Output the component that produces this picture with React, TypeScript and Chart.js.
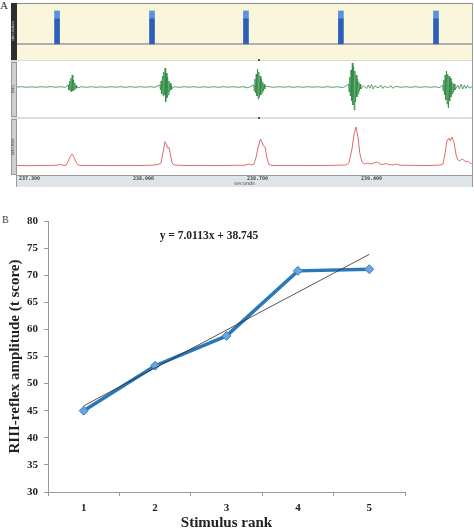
import React, { useEffect, useRef } from 'react';
import { Chart, registerables } from 'chart.js';

Chart.register(...registerables);

// ---------- Panel A data ----------
const timeMin = 237.223;
const timeMax = 240.017;
const timeTicks = [237.3, 238.0, 238.7, 239.4];
const timeTickLabels = ['237.300', '238.000', '238.700', '239.400'];

const stimTimes = [237.469, 238.052, 238.629, 239.212, 239.796];
const stimSplit = 0.76;

const emgSamples: [number, number][] = [
  [237.223, 0], [237.25, 0.3], [237.28, -0.3], [237.31, 0.2], [237.34, -0.3], [237.37, 0.3], [237.40, -0.2],
  [237.43, 0.4], [237.46, -0.3], [237.49, 0.3], [237.52, -0.3],
  [237.538, 2], [237.542, -3], [237.546, 6], [237.550, -4], [237.554, 9], [237.558, -5], [237.562, 12],
  [237.566, -4], [237.570, 7], [237.574, -3], [237.578, 4], [237.582, -2], [237.586, 1.5], [237.590, -1],
  [237.62, 0.3], [237.65, -0.3], [237.68, 0.3], [237.71, -0.3], [237.74, 0.2], [237.77, -0.3], [237.80, 0.3],
  [237.83, -0.2], [237.86, 0.3], [237.89, -0.3], [237.92, 0.3], [237.95, -0.3], [237.98, 0.3], [238.01, -0.2],
  [238.04, 0.3], [238.07, -0.3],
  [238.100, 2], [238.104, -3], [238.108, 6], [238.112, -7], [238.116, 11], [238.120, -9], [238.124, 15],
  [238.128, -8], [238.132, 19], [238.136, -15], [238.140, 14], [238.144, -11], [238.148, 10], [238.152, -8],
  [238.156, 6], [238.160, -5], [238.164, 4], [238.168, -3], [238.172, 2], [238.176, -1.5],
  [238.19, 0.3], [238.22, -0.3], [238.25, 0.3], [238.28, -0.2], [238.31, 0.3], [238.34, -0.3], [238.37, 0.2],
  [238.40, -0.3], [238.43, 0.3], [238.46, -0.3], [238.49, 0.3], [238.52, -0.2], [238.55, 0.3], [238.58, -0.3],
  [238.61, 0.3], [238.64, -0.8], [238.66, 0.8],
  [238.676, 2], [238.680, -4], [238.684, 8], [238.688, -6], [238.692, 13], [238.696, -9], [238.700, 18],
  [238.704, -12], [238.708, 15], [238.712, -10], [238.716, 11], [238.720, -8], [238.724, 8], [238.728, -6],
  [238.732, 5], [238.736, -4], [238.740, 3], [238.744, -2], [238.748, 1],
  [238.77, 0.3], [238.80, -0.3], [238.83, 0.3], [238.86, -0.2], [238.89, 0.3], [238.92, -0.3], [238.95, 0.3],
  [238.98, -0.3], [239.01, 0.3], [239.04, -0.2], [239.07, 0.3], [239.10, -0.3], [239.13, 0.3], [239.16, -0.3],
  [239.19, 0.3], [239.22, -0.6], [239.24, 0.6],
  [239.258, 3], [239.262, -5], [239.266, 10], [239.270, -9], [239.274, 17], [239.278, -14], [239.282, 24],
  [239.286, -18], [239.290, 20], [239.294, -23], [239.298, 16], [239.302, -15], [239.306, 12], [239.310, -10],
  [239.314, 8], [239.318, -7], [239.322, 5], [239.326, -4], [239.330, 3], [239.334, -2],
  [239.35, 1.2], [239.37, -1.5], [239.38, 2], [239.39, -1.2], [239.40, 2.5], [239.41, -2], [239.42, 1.2],
  [239.44, -0.8], [239.46, 1.5], [239.47, -1.5], [239.48, 0.8], [239.50, -0.8], [239.52, 1.2], [239.53, -1.2],
  [239.55, 0.6], [239.58, -0.3], [239.61, 0.3], [239.64, -0.3], [239.67, 0.3], [239.70, -0.3], [239.73, 0.3],
  [239.76, -0.3], [239.79, 0.3], [239.82, -0.6],
  [239.836, 2], [239.840, -4], [239.844, 7], [239.848, -8], [239.852, 12], [239.856, -13], [239.860, 16],
  [239.864, -17], [239.868, 13], [239.872, -21], [239.876, 11], [239.880, -14], [239.884, 9], [239.888, -10],
  [239.892, 6], [239.896, -7], [239.900, 4], [239.904, -5], [239.908, 3], [239.912, -3],
  [239.93, 2], [239.94, -2], [239.95, 3], [239.96, -2], [239.97, 2], [239.98, -1.5], [239.99, 1.5],
  [240.00, -1], [240.017, 0.3],
];

const rmsSamples: [number, number][] = [
  [237.223, 0.5], [237.303, 0.3], [237.364, 0.6], [237.426, 0.5], [237.475, 1], [237.493, 1.5], [237.511, 0.5],
  [237.524, 0.8], [237.536, 4], [237.548, 9], [237.561, 12], [237.573, 9], [237.585, 4], [237.598, 1],
  [237.622, 0.5], [237.702, 0.6], [237.794, 0.4], [237.886, 0.6], [237.978, 0.5], [238.052, 0.8],
  [238.089, 1.5], [238.107, 3], [238.12, 14], [238.132, 24.5], [238.141, 22], [238.147, 18], [238.157, 18.5],
  [238.166, 11], [238.175, 3], [238.187, 1], [238.255, 0.5], [238.347, 0.6], [238.439, 0.4], [238.531, 0.6],
  [238.623, 0.8], [238.647, 2], [238.659, 1], [238.678, 2], [238.69, 8], [238.703, 18], [238.718, 27],
  [238.727, 24], [238.736, 20], [238.746, 19], [238.758, 8], [238.77, 1.5], [238.789, 0.5], [238.899, 0.6],
  [239.022, 0.5], [239.145, 0.6], [239.243, 1], [239.261, 3], [239.279, 16], [239.291, 30], [239.304, 39],
  [239.316, 30], [239.329, 12], [239.341, 4], [239.359, 2], [239.378, 3], [239.396, 2], [239.414, 3],
  [239.433, 4], [239.451, 2], [239.469, 1.5], [239.488, 2.5], [239.506, 1.5], [239.531, 1], [239.549, 2],
  [239.573, 0.8], [239.665, 0.6], [239.757, 0.5], [239.818, 1], [239.839, 2], [239.851, 12], [239.863, 25],
  [239.875, 28], [239.884, 25], [239.894, 29], [239.906, 24], [239.918, 12], [239.93, 6], [239.942, 5],
  [239.954, 7], [239.967, 6], [239.979, 4], [239.991, 5], [240.003, 3], [240.015, 2.5],
];

// ---------- Panel B data ----------
const ranks = ['1', '2', '3', '4', '5'];
const amplitudes = [45.0, 53.3, 58.8, 70.8, 71.1];
const trendValues: (number | null)[] = [45.9, null, null, null, 73.85];
const equationText = 'y = 7.0113x + 38.745';
const yMin = 30;
const yMax = 80;
const yStep = 5;

const serif = '"Liberation Serif", "DejaVu Serif", serif';
const mono = '"DejaVu Sans Mono", "Liberation Mono", monospace';

function useChart(factory: () => any) {
  const ref = useRef<HTMLCanvasElement | null>(null);
  useEffect(() => {
    if (!ref.current) return;
    const chart = new Chart(ref.current, factory());
    return () => chart.destroy();
  }, []);
  return ref;
}

const hiddenX = { type: 'linear', min: timeMin, max: timeMax, display: false, offset: false };

function StimTrack() {
  const ref = useChart(() => ({
    type: 'bar',
    data: {
      datasets: [
        {
          type: 'line',
          data: [{ x: timeMin, y: 0 }, { x: timeMax, y: 0 }],
          borderColor: '#5d6b88',
          borderWidth: 1,
          pointRadius: 0,
        },
        {
          data: stimTimes.map((t) => ({ x: t, y: [0, stimSplit] })),
          backgroundColor: '#2d5fb8',
          barThickness: 5,
          grouped: false,
        },
        {
          data: stimTimes.map((t) => ({ x: t, y: [stimSplit, 1] })),
          backgroundColor: '#5f8fd6',
          barThickness: 5,
          grouped: false,
        },
      ],
    },
    options: {
      responsive: false,
      animation: false,
      layout: { padding: 0 },
      plugins: { legend: { display: false }, tooltip: { enabled: false } },
      scales: {
        x: hiddenX,
        y: { min: -0.485, max: 1.24, display: false },
      },
    },
  }));
  return <canvas ref={ref} width={455} height={57} style={{ display: 'block' }} />;
}

function EmgTrack() {
  const ref = useChart(() => ({
    type: 'line',
    data: {
      datasets: [
        {
          data: emgSamples.map(([x, y]) => ({ x, y })),
          borderColor: '#2f8a42',
          borderWidth: 0.8,
          pointRadius: 0,
          tension: 0,
        },
      ],
    },
    options: {
      responsive: false,
      animation: false,
      layout: { padding: 0 },
      plugins: { legend: { display: false }, tooltip: { enabled: false } },
      scales: {
        x: hiddenX,
        y: { min: -30, max: 26, display: false },
      },
    },
  }));
  return <canvas ref={ref} width={455} height={56} style={{ display: 'block' }} />;
}

function RmsTrack() {
  const ref = useChart(() => ({
    type: 'line',
    data: {
      datasets: [
        {
          data: rmsSamples.map(([x, y]) => ({ x, y })),
          borderColor: '#e06a6a',
          borderWidth: 1,
          pointRadius: 0,
          tension: 0,
        },
      ],
    },
    options: {
      responsive: false,
      animation: false,
      layout: { padding: 0 },
      plugins: { legend: { display: false }, tooltip: { enabled: false } },
      scales: {
        x: {
          type: 'linear',
          min: timeMin,
          max: timeMax,
          offset: false,
          grid: { display: false, drawTicks: false },
          border: { display: false },
          afterBuildTicks: (scale: any) => {
            scale.ticks = timeTicks.map((value) => ({ value }));
          },
          afterFit: (scale: any) => {
            scale.height = 12;
          },
          ticks: {
            autoSkip: false,
            maxRotation: 0,
            padding: 1,
            color: '#444',
            font: { family: mono, size: 5, weight: 'bold' },
            callback: (_v: any, i: number) => timeTickLabels[i],
          },
          title: {
            display: true,
            text: 'seconds',
            color: '#444',
            font: { family: mono, size: 5 },
            padding: { top: 0, bottom: 0 },
          },
        },
        y: { min: -9, max: 47, display: false },
      },
    },
  }));
  return <canvas ref={ref} width={455} height={68} style={{ display: 'block' }} />;
}

function PanelB() {
  const ref = useChart(() => ({
    type: 'line',
    data: {
      labels: ranks,
      datasets: [
        {
          data: trendValues,
          borderColor: '#2a2a2a',
          borderWidth: 0.8,
          pointRadius: 0,
          spanGaps: true,
          tension: 0,
        },
        {
          data: amplitudes,
          borderColor: '#2a78b8',
          borderWidth: 3.5,
          tension: 0,
          pointStyle: 'rectRot',
          pointRadius: 4.5,
          pointBackgroundColor: '#6aa6dc',
          pointBorderColor: '#3a84c6',
          pointBorderWidth: 1,
        },
      ],
    },
    options: {
      responsive: false,
      animation: false,
      layout: { padding: { top: 21, right: 69, left: 0, bottom: 0 } },
      plugins: { legend: { display: false }, tooltip: { enabled: false } },
      scales: {
        x: {
          type: 'category',
          offset: true,
          grid: { display: true, drawOnChartArea: false, drawTicks: true, tickLength: 4, offset: true, color: '#999' },
          border: { display: true, color: '#999', width: 1 },
          afterFit: (scale: any) => {
            scale.height = 38;
          },
          ticks: { color: '#222', padding: 6, font: { family: serif, size: 11, weight: 'bold' } },
          title: {
            display: true,
            text: 'Stimulus rank',
            color: '#222',
            font: { family: serif, size: 15, weight: 'bold' },
            padding: { top: 0, bottom: -2 },
          },
        },
        y: {
          min: yMin,
          max: yMax,
          grid: { display: true, drawOnChartArea: false, drawTicks: true, tickLength: 4, color: '#999' },
          border: { display: true, color: '#999', width: 1 },
          afterFit: (scale: any) => {
            scale.width = 48;
          },
          ticks: { stepSize: yStep, color: '#222', padding: 6, font: { family: serif, size: 11, weight: 'bold' } },
          title: {
            display: true,
            text: 'RIII-reflex amplitude (t score)',
            color: '#222',
            font: { family: serif, size: 15, weight: 'bold' },
            padding: { top: 6, bottom: 0 },
          },
        },
      },
    },
  }));
  return <canvas ref={ref} width={474} height={330} style={{ display: 'block' }} />;
}

const sideLabel: React.CSSProperties = {
  position: 'absolute',
  left: 0,
  top: 0,
  width: '100%',
  height: '100%',
  writingMode: 'vertical-rl',
  transform: 'rotate(180deg)',
  fontSize: 3.5,
  fontFamily: '"DejaVu Sans", sans-serif',
  display: 'flex',
  alignItems: 'center',
  justifyContent: 'center',
  lineHeight: 1,
};

export default function App() {
  return (
    <div style={{ position: 'absolute', left: 0, top: 0, width: 474, height: 530, background: '#fff', overflow: 'hidden' }}>
      {/* Panel A */}
      <div style={{ position: 'absolute', left: 0, top: 0, fontFamily: serif, fontSize: 11, color: '#333', lineHeight: 1 }}>A</div>

      {/* stimulation track */}
      <div style={{ position: 'absolute', left: 11, top: 3, width: 6, height: 57, background: '#2f2f2f' }}>
        <div style={{ ...sideLabel, color: '#ddd' }}>stimulation</div>
      </div>
      <div style={{ position: 'absolute', left: 17, top: 3, width: 455, height: 57, background: '#faf6db', borderTop: '1px solid #8a8a8a', boxSizing: 'border-box' }}>
        <div style={{ position: 'absolute', left: 0, top: -1 }}>
          <StimTrack />
        </div>
      </div>
      <div style={{ position: 'absolute', left: 11, top: 60, width: 462, height: 1.5, background: '#d8d8d8' }} />

      {/* EMG track */}
      <div style={{ position: 'absolute', left: 11, top: 62, width: 6, height: 55, background: '#cfcfcf', border: '0.5px solid #999', boxSizing: 'border-box' }}>
        <div style={{ ...sideLabel, color: '#555' }}>EMG</div>
      </div>
      <div style={{ position: 'absolute', left: 17, top: 61, width: 455, height: 56, background: '#fff' }}>
        <EmgTrack />
      </div>
      <div style={{ position: 'absolute', left: 11, top: 117, width: 462, height: 2, background: '#dcdcdc' }} />

      {/* RMS track */}
      <div style={{ position: 'absolute', left: 11, top: 119, width: 6, height: 56, background: '#cfcfcf', border: '0.5px solid #999', boxSizing: 'border-box' }}>
        <div style={{ ...sideLabel, color: '#555' }}>EMG RMS</div>
      </div>
      <div
        style={{
          position: 'absolute',
          left: 17,
          top: 119,
          width: 455,
          height: 68,
          background: 'linear-gradient(to bottom, #ffffff 0px, #ffffff 56px, #9a9a9a 56px, #9a9a9a 57px, #dde5e8 57px, #dde5e8 68px)',
        }}
      >
        <RmsTrack />
      </div>
      <div style={{ position: 'absolute', left: 16, top: 175, width: 1, height: 12, background: '#9a9a9a' }} />
      <div style={{ position: 'absolute', left: 472, top: 3, width: 1, height: 184, background: '#9a9a9a' }} />
      <div style={{ position: 'absolute', left: 258, top: 59, width: 2, height: 2, background: '#555' }} />
      <div style={{ position: 'absolute', left: 258, top: 117, width: 2, height: 2, background: '#555' }} />

      {/* Panel B */}
      <div style={{ position: 'absolute', left: 2, top: 215, fontFamily: serif, fontSize: 10, color: '#444', lineHeight: 1 }}>B</div>
      <div style={{ position: 'absolute', left: 0, top: 200 }}>
        <PanelB />
      </div>
      <div
        style={{
          position: 'absolute',
          left: 100,
          width: 218,
          top: 229,
          textAlign: 'center',
          fontFamily: serif,
          fontWeight: 'bold',
          fontSize: 11.5,
          color: '#222',
          lineHeight: 1.2,
          whiteSpace: 'nowrap',
        }}
      >
        {equationText}
      </div>
    </div>
  );
}
